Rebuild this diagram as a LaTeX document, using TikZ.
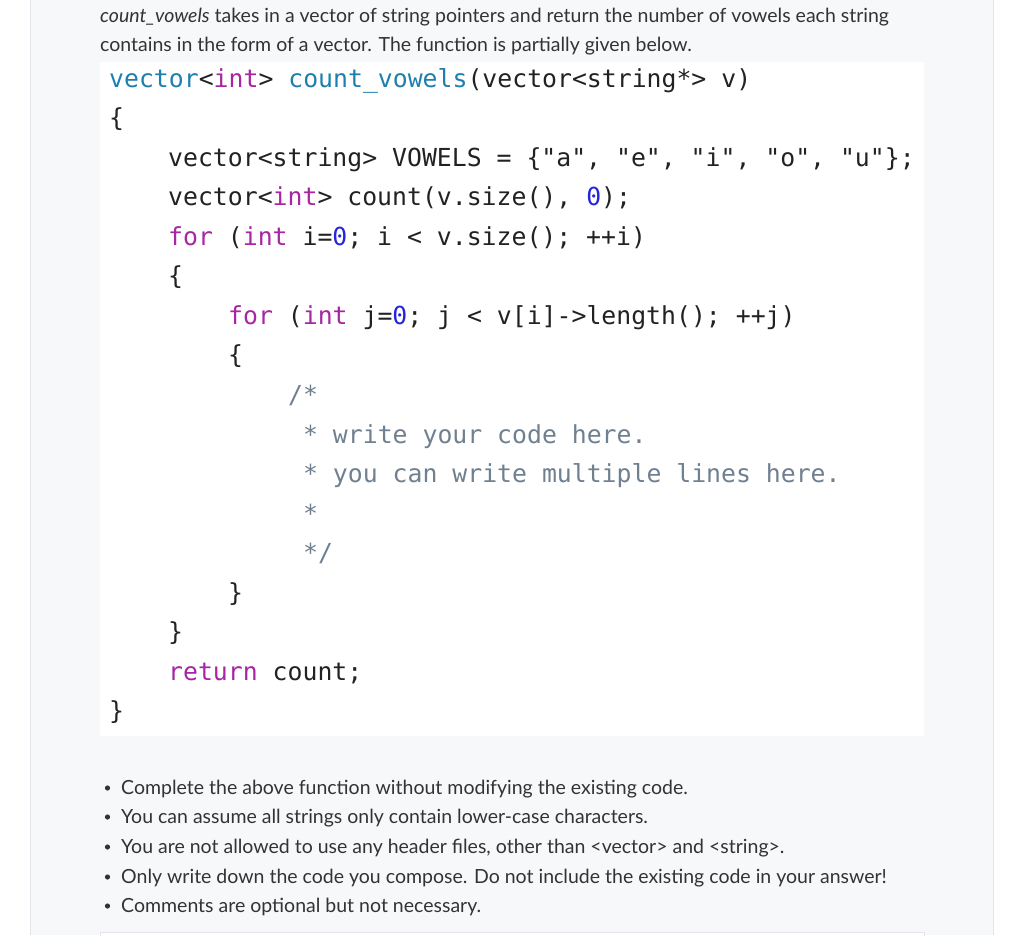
\documentclass[tikz,border=0pt]{standalone}
\usepackage{fontspec}
\setmainfont{Lato}
\setmonofont{DejaVu Sans Mono}
\definecolor{panel}{HTML}{F7F8FA}
\definecolor{edge}{HTML}{E3E5EA}
\definecolor{txt}{HTML}{333333}
\definecolor{cblue}{HTML}{1E7FAF}
\definecolor{cmag}{HTML}{A626A4}
\definecolor{cnum}{HTML}{2424DD}
\definecolor{ccom}{HTML}{708090}
\definecolor{ccode}{HTML}{222222}
\newcommand\Kw[1]{\textcolor{cmag}{#1}}
\newcommand\Nm[1]{\textcolor{cnum}{#1}}
\newcommand\Fn[1]{\textcolor{cblue}{#1}}
\newcommand\Us{\char`\_}
\begin{document}
\begin{tikzpicture}[x=1pt,y=-1pt,
  prose/.style={anchor=base west,inner sep=0pt,text=txt,font=\fontsize{19.5}{23}\selectfont},
  code/.style={anchor=base west,inner sep=0pt,text=ccode,font=\ttfamily\fontsize{24.8}{28}\selectfont},
  com/.style={code,text=ccom}]
\useasboundingbox (0,0) rectangle (1024,935);
\fill[white] (0,0) rectangle (1024,935);
\fill[panel] (30,0) rectangle (994,935);
\draw[edge] (30.5,0) -- (30.5,935) (993.5,0) -- (993.5,935);
\fill[white] (100,62) rectangle (924,736);
\draw[edge,fill=white] (100,932) rectangle (924,940);
\node[prose] (p1) at (100,22) {\textit{count\Us vowels} takes in a vector of string pointers and return the number of vowels each string};
\node[prose] (p2) at (100,51) {contains in the form of a vector. The function is partially given below.};
\node[code] (c1) at (109,87) {\Fn{vector}<\Kw{int}> \Fn{count\Us vowels}(vector<string*> v)};
\node[code] (c2) at (109,126.6) {\{};
\node[code] (c3) at (168,166.1) {vector<string> VOWELS = \{"a", "e", "i", "o", "u"\};};
\node[code] (c4) at (168,205.7) {vector<\Kw{int}> count(v.size(), \Nm{0});};
\node[code] (c5) at (168,245.2) {\Kw{for} (\Kw{int} i=\Nm{0}; i < v.size(); ++i)};
\node[code] (c6) at (168,284.8) {\{};
\node[code] (c7) at (228,324.4) {\Kw{for} (\Kw{int} j=\Nm{0}; j < v[i]->length(); ++j)};
\node[code] (c8) at (228,363.9) {\{};
\node[com] (c9) at (288,403.5) {/*};
\node[com] (c10) at (288,443.0) {\ * write your code here.};
\node[com] (c11) at (288,482.6) {\ * you can write multiple lines here.};
\node[com] (c12) at (288,522.1) {\ *};
\node[com] (c13) at (288,561.7) {\ */};
\node[code] (c14) at (228,601.3) {\}};
\node[code] (c15) at (168,640.8) {\}};
\node[code] (c16) at (168,680.4) {\Kw{return} count;};
\node[code] (c17) at (109,719.9) {\}};
\foreach \y/\t [count=\i] in {794/{Complete the above function without modifying the existing code.},
  823/{You can assume all strings only contain lower-case characters.},
  853/{You are not allowed to use any header files, other than <vector> and <string>.},
  883/{Only write down the code you compose. Do not include the existing code in your answer!},
  912/{Comments are optional but not necessary.}}{
  \fill[txt] (107.5,\y-6) circle (2.6);
  \node[prose] (b\i) at (121,\y) {\t};
}
\end{tikzpicture}
\end{document}
